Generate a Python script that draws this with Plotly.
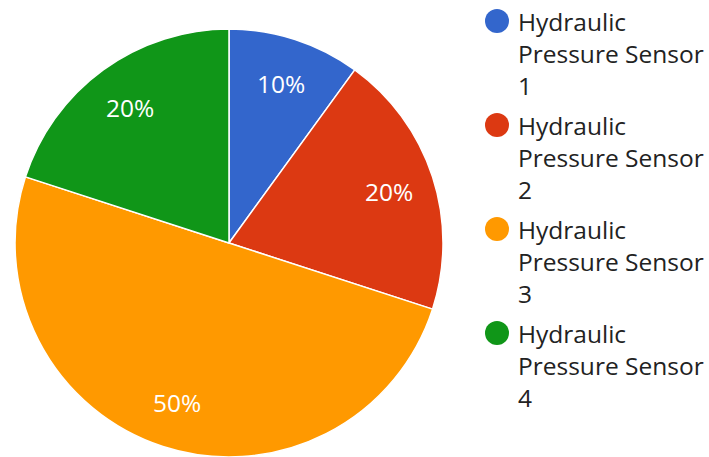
import math
import plotly.graph_objects as go

labels = ["Hydraulic Pressure Sensor 1", "Hydraulic Pressure Sensor 2",
          "Hydraulic Pressure Sensor 3", "Hydraulic Pressure Sensor 4"]
legend_lines = [["Hydraulic", "Pressure Sensor", "1"],
                ["Hydraulic", "Pressure Sensor", "2"],
                ["Hydraulic", "Pressure Sensor", "3"],
                ["Hydraulic", "Pressure Sensor", "4"]]
values = [10, 20, 50, 20]
colors = ["#3366CC", "#DC3912", "#FF9900", "#109618"]

W, H = 709, 457
cx, cy, R = 229, 243, 214
FONT = "Open Sans"

fig = go.Figure()
fig.add_trace(go.Pie(
    labels=labels, values=values, sort=False, direction="clockwise", rotation=0,
    marker=dict(colors=colors, line=dict(color="white", width=1.5)),
    textinfo="none", hoverinfo="label+percent", showlegend=False,
    domain=dict(x=[(cx - R) / W, (cx + R) / W], y=[(H - cy - R) / H, (H - cy + R) / H]),
))

annotations = []
shapes = []
total = sum(values)
cum = 0
for v in values:
    mid = (cum + v / 2) / total * 2 * math.pi
    cum += v
    rl = 0.785 * R
    px = cx + rl * math.sin(mid)
    py = cy - rl * math.cos(mid)
    annotations.append(dict(
        x=px / W, y=1 - py / H, xref="paper", yref="paper",
        text=f"{round(v / total * 100)}%", showarrow=False,
        xanchor="center", yanchor="middle",
        font=dict(family=FONT, size=24.5, color="white")))

for k, lines in enumerate(legend_lines):
    ycirc = 21 + 104 * k
    shapes.append(dict(type="circle", xref="paper", yref="paper",
                       x0=485 / W, x1=509 / W, y0=1 - (ycirc - 12) / H, y1=1 - (ycirc + 12) / H,
                       fillcolor=colors[k], line=dict(width=0)))
    for i, t in enumerate(lines):
        yc = 21.5 + 104 * k + 32 * i
        annotations.append(dict(
            x=516 / W, y=1 - yc / H, xref="paper", yref="paper",
            text=t, showarrow=False, xanchor="left", yanchor="middle",
            font=dict(family=FONT, size=24.5, color="#222222")))

fig.update_layout(
    width=W, height=H, margin=dict(l=0, r=0, t=0, b=0),
    paper_bgcolor="white", plot_bgcolor="white",
    annotations=annotations, shapes=shapes, showlegend=False,
)
fig.write_html("out.html")
